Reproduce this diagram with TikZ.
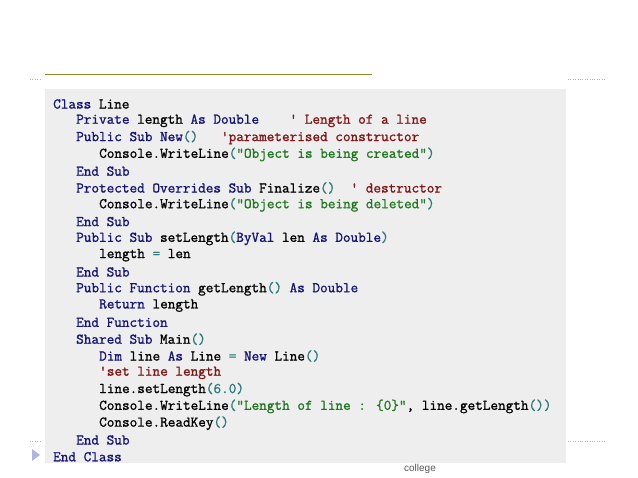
\documentclass[tikz,border=0pt]{standalone}
\usepackage{fontspec}
\setmainfont{Liberation Sans}
\newfontfamily\codefont{Latin Modern Mono}[FakeBold=1.2]
\definecolor{kw}{RGB}{20,20,120}
\definecolor{cm}{RGB}{130,20,20}
\definecolor{st}{RGB}{30,120,30}
\definecolor{pn}{RGB}{40,120,120}
\definecolor{boxbg}{RGB}{238,238,238}
\newcommand{\kw}[1]{\textcolor{kw}{#1}}
\newcommand{\cm}[1]{\textcolor{cm}{#1}}
\newcommand{\st}[1]{\textcolor{st}{#1}}
\newcommand{\pn}[1]{\textcolor{pn}{#1}}
\newcommand{\Q}{\symbol{34}}
\newcommand{\A}{\symbol{39}}
\tikzset{codeline/.style={anchor=west,inner sep=0pt,font=\codefont\fontsize{14.8}{16}\selectfont}}
\begin{document}
\begin{tikzpicture}[x=1pt,y=-1pt]
\useasboundingbox[fill=white] (0,0) rectangle (638,478);
\fill[boxbg] (45,89) rectangle (566,463);
\draw[olive!70!gray,line width=0.8pt] (45,74) -- (372,74);
\draw[gray!60,dotted] (30,79) -- (40,79);
\draw[gray!60,dotted] (568,79) -- (605,79);
\draw[gray!60,dotted] (30,441) -- (40,441);
\draw[gray!60,dotted] (568,441) -- (605,441);
\fill[gray!50!blue!40] (32,449) -- (40,455) -- (32,461) -- cycle;
\def\Y#1{104+16.8*#1}
\node[codeline] (l0) at (53,{\Y0}) {\kw{Class} Line};
\node[codeline] (l1) at (76,{\Y1}) {\kw{Private} length \kw{As} \kw{Double}\ \ \ \ \cm{\A{} Length of a line}};
\node[codeline] (l2) at (76,{\Y2}) {\kw{Public} \kw{Sub} \kw{New}\pn{()}\ \ \ \cm{\A{}parameterised constructor}};
\node[codeline] (l3) at (99,{\Y3}) {Console.WriteLine\pn{(}\st{\Q{}Object is being created\Q{}}\pn{)}};
\node[codeline] (l4) at (76,{\Y4}) {\kw{End} \kw{Sub}};
\node[codeline] (l5) at (76,{\Y5}) {\kw{Protected} \kw{Overrides} \kw{Sub} Finalize\pn{()}\ \ \cm{\A{} destructor}};
\node[codeline] (l6) at (99,{\Y6}) {Console.WriteLine\pn{(}\st{\Q{}Object is being deleted\Q{}}\pn{)}};
\node[codeline] (l7) at (76,{\Y7}) {\kw{End} \kw{Sub}};
\node[codeline] (l8) at (76,{\Y8}) {\kw{Public} \kw{Sub} setLength\pn{(}\kw{ByVal} len \kw{As} \kw{Double}\pn{)}};
\node[codeline] (l9) at (99,{\Y9}) {length \pn{=} len};
\node[codeline] (l10) at (76,{\Y{10}}) {\kw{End} \kw{Sub}};
\node[codeline] (l11) at (76,{\Y{11}}) {\kw{Public} \kw{Function} getLength\pn{()} \kw{As} \kw{Double}};
\node[codeline] (l12) at (99,{\Y{12}}) {\kw{Return} length};
\node[codeline] (l13) at (76,{\Y{13}}) {\kw{End} \kw{Function}};
\node[codeline] (l14) at (76,{\Y{14}}) {\kw{Shared} \kw{Sub} Main\pn{()}};
\node[codeline] (l15) at (99,{\Y{15}}) {\kw{Dim} line \kw{As} Line \pn{=} \kw{New} Line\pn{()}};
\node[codeline] (l16) at (99,{\Y{16}}) {\cm{\A{}set line length}};
\node[codeline] (l17) at (99,{\Y{17}}) {line.setLength\pn{(6.0)}};
\node[codeline] (l18) at (99,{\Y{18}}) {Console.WriteLine\pn{(}\st{\Q{}Length of line : \{0\}\Q{}}, line.getLength\pn{())}};
\node[codeline] (l19) at (99,{\Y{19}}) {Console.ReadKey\pn{()}};
\node[codeline] (l20) at (76,{\Y{20}}) {\kw{End} \kw{Sub}};
\node[codeline] (l21) at (53,{\Y{21}}) {\kw{End} \kw{Class}};
\node[font=\fontsize{10}{12}\selectfont,text=gray!70!black] (c) at (420,469) {college};
\end{tikzpicture}
\end{document}
